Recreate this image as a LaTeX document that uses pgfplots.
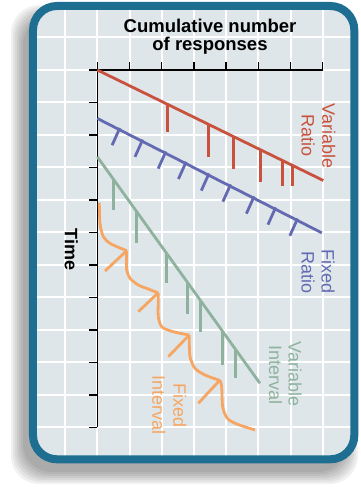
\documentclass[border=0pt]{standalone}
\usepackage{pgfplots}
\pgfplotsset{compat=1.18}
\usepackage{fontspec}
\setmainfont{Liberation Sans}
\definecolor{panelbg}{RGB}{222,230,234}
\definecolor{bordercol}{RGB}{29,110,145}
\definecolor{vrred}{RGB}{201,82,62}
\definecolor{frblue}{RGB}{100,106,178}
\definecolor{vigreen}{RGB}{143,178,158}
\definecolor{fiorange}{RGB}{246,166,98}
\begin{document}
\begin{tikzpicture}
% background panel in pixel coordinates
\begin{scope}[x=1pt,y=-1pt,shift={(-97.3pt,427.5pt)}]
  \foreach \e in {-3,-1,1,3,5,7,9} {
    \fill[black,opacity=0.055,rounded corners=28pt] (20-\e,14-\e) rectangle (349+\e,475+\e);
  }
  \fill[panelbg,rounded corners=24pt] (33,6) rectangle (354.3,459.3);
  \begin{scope}
    \clip[rounded corners=24pt] (33,6) rectangle (354.3,459.3);
    \foreach \k in {-1,...,7} {
      \draw[white,line width=2pt] (97.3+32.2*\k,0) -- (97.3+32.2*\k,470);
    }
    \foreach \k in {-1,...,11} {
      \draw[white,line width=2pt] (20,70+32.5*\k) -- (370,70+32.5*\k);
    }
  \end{scope}
  \draw[bordercol,line width=8pt,rounded corners=24pt] (33,6) rectangle (354.3,459.3);
\end{scope}

\begin{axis}[
  scale only axis, width=225.4pt, height=357.5pt,
  xmin=0, xmax=7, ymin=-11, ymax=0,
  axis x line=top, axis y line=left,
  axis line style={-, black, line width=1.4pt},
  xtick={0,...,7}, ytick={-11,...,0},
  xticklabels={}, yticklabels={},
  tick align=outside, major tick length=8pt,
  tick style={black, line width=1.4pt},
  clip=false, no markers,
  unbounded coords=jump,
]
% Variable ratio
\addplot[vrred, line width=2.8pt] coordinates {(0,0) (7.02,-3.40)};
\addplot[vrred, line width=2.8pt] coordinates {
  (2.17,-1.05) (2.17,-1.90) (2.17,nan)
  (3.45,-1.67) (3.45,-2.67) (3.45,nan)
  (4.22,-2.04) (4.22,-3.06) (4.22,nan)
  (5.08,-2.46) (5.08,-3.46) (5.08,nan)
  (5.76,-2.79) (5.76,-3.57) (5.76,nan)
  (6.06,-2.93) (6.06,-3.57)};
% Fixed ratio
\addplot[frblue, line width=2.8pt] coordinates {(0,-1.49) (6.97,-5.01)};
\addplot[frblue, line width=2.8pt] coordinates {
  (0.70,-1.784) (0.46,-2.314) (0.46,nan)
  (1.41,-2.142) (1.17,-2.672) (1.17,nan)
  (2.13,-2.506) (1.89,-3.036) (1.89,nan)
  (2.76,-2.824) (2.52,-3.354) (2.52,nan)
  (3.47,-3.182) (3.23,-3.712) (3.23,nan)
  (4.14,-3.521) (3.90,-4.051) (3.90,nan)
  (4.87,-3.889) (4.63,-4.419) (4.63,nan)
  (5.54,-4.228) (5.30,-4.758) (5.30,nan)
  (6.22,-4.571) (5.98,-5.101)};
% Variable interval
\addplot[vigreen, line width=2.8pt] coordinates {(0,-2.67) (5.05,-9.64)};
\addplot[vigreen, line width=2.8pt] coordinates {
  (0.50,-3.36) (0.50,-4.31) (0.50,nan)
  (1.22,-4.354) (1.22,-5.33) (1.22,nan)
  (2.16,-5.651) (2.16,-6.56) (2.16,nan)
  (2.81,-6.548) (2.81,-7.50) (2.81,nan)
  (3.21,-7.100) (3.21,-8.05) (3.21,nan)
  (3.89,-8.039) (3.89,-9.08) (3.89,nan)
  (4.28,-8.577) (4.28,-9.49)};
% Fixed interval (scallops)
\addplot[fiorange, line width=2.8pt, smooth] coordinates {
  (0.062,-4.083) (0.084,-4.717) (0.186,-5.129) (0.394,-5.332) (0.652,-5.455) (0.913,-5.560)};
\addplot[fiorange, line width=2.8pt, smooth] coordinates {
  (0.913,-5.560) (0.905,-5.80) (0.913,-6.154) (1.016,-6.409) (1.273,-6.615) (1.584,-6.738) (1.894,-6.862)};
\addplot[fiorange, line width=2.8pt, smooth] coordinates {
  (1.894,-6.862) (1.894,-7.077) (1.894,-7.591) (2.0,-7.898) (2.258,-8.022) (2.568,-8.102) (2.857,-8.154)};
\addplot[fiorange, line width=2.8pt, smooth] coordinates {
  (2.857,-8.154) (2.857,-8.360) (2.879,-8.822) (3.034,-9.178) (3.345,-9.385) (3.811,-9.554)};
\addplot[fiorange, line width=2.8pt, smooth] coordinates {
  (3.811,-9.554) (3.863,-9.745) (3.894,-10.36) (4.037,-10.717) (4.329,-10.892) (4.898,-11.077)};
\addplot[fiorange, line width=2.8pt] coordinates {
  (0.239,-6.185) (0.913,-5.560) (0.913,nan)
  (1.273,-7.437) (1.894,-6.852) (1.894,nan)
  (2.205,-8.822) (2.857,-8.154) (2.857,nan)
  (3.137,-10.255) (3.811,-9.538)};
\end{axis}

% texts in pixel coordinates
\begin{scope}[x=1pt,y=-1pt,shift={(-97.3pt,427.5pt)}]
  \node[anchor=base,inner sep=0,font=\bfseries\fontsize{18.5}{20}\selectfont] at (210,32.3) {Cumulative number};
  \node[anchor=base,inner sep=0,font=\bfseries\fontsize{18.5}{20}\selectfont] at (210,51) {of responses};
  \node[anchor=base,inner sep=0,rotate=-90,font=\bfseries\fontsize{18}{20}\selectfont] at (65,249.2) {Time};
  \tikzset{lab/.style={anchor=base,inner sep=0,rotate=-90,font=\fontsize{18}{20}\selectfont}}
  \node[lab,text=vrred] at (322.3,135.8) {Variable};
  \node[lab,text=vrred] at (301.7,135.8) {Ratio};
  \node[lab,text=frblue] at (321.7,271.7) {Fixed};
  \node[lab,text=frblue] at (301.5,272.2) {Ratio};
  \node[lab,text=vigreen] at (288.5,374) {Variable};
  \node[lab,text=vigreen] at (269,375) {Interval};
  \node[lab,text=fiorange] at (173.3,405.8) {Fixed};
  \node[lab,text=fiorange] at (152.3,404.7) {Interval};
\end{scope}
\pgfresetboundingbox
\path[use as bounding box] (-97.3pt,427.5pt) rectangle (262.7pt,-59.5pt);
\end{tikzpicture}
\end{document}
